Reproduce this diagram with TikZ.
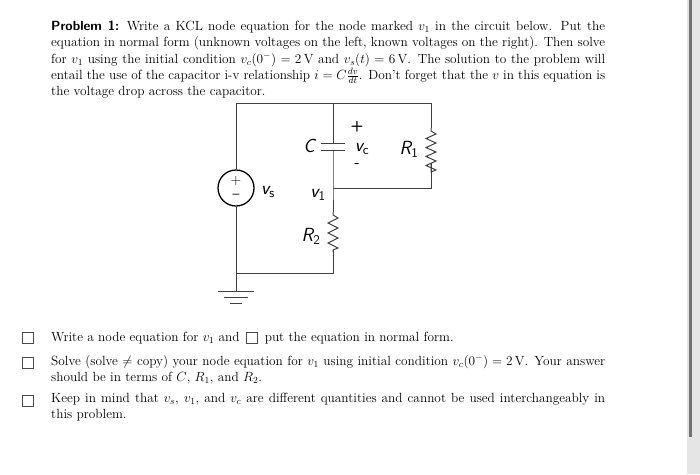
\documentclass[tikz,border=0pt]{standalone}
\usepackage{fix-cm}
\usepackage{amsmath,amssymb}
\usepackage{fontspec}
\usetikzlibrary{calc}
\begin{document}
\begin{tikzpicture}[x=1pt,y=-1pt,
  wire/.style={draw=black!75,line width=1pt},
  lab/.style={font=\sffamily\itshape\fontsize{19}{20}\selectfont},
  body/.style={anchor=north west,inner sep=0pt,text width=#1,align=justify,font=\fontsize{13.3}{16.2}\selectfont},
  line/.style={anchor=west,inner sep=0pt,font=\fontsize{13.3}{16.2}\selectfont},
  cbox/.style={draw=black!70,line width=0.7pt,minimum size=11pt,inner sep=0pt}]
\useasboundingbox (0,0) rectangle (700,474);
\fill[black!10] (687,0) rectangle (700,474);
\fill[black!55] (689,0) rectangle (692,437);
% text
\node[body=554pt] (para) at (51,21) {{\sffamily\bfseries Problem 1:} Write a KCL node equation for the node marked $v_1$ in the circuit below. Put the equation in normal form (unknown voltages on the left, known voltages on the right). Then solve for $v_1$ using the initial condition $v_c(0^-)=2\,\mathrm{V}$ and $v_s(t)=6\,\mathrm{V}$. The solution to the problem will entail the use of the capacitor i-v relationship $i=C\frac{dv}{dt}$. Don't forget that the $v$ in this equation is the voltage drop across the capacitor.};
% circuit coordinates
\coordinate (tl) at (236,103); \coordinate (tm) at (333,103); \coordinate (tr) at (431,103);
\coordinate (n1) at (333,188); \coordinate (rr) at (431,188);
\coordinate (bl) at (236,273); \coordinate (bm) at (333,273);
\coordinate (g) at (236,291);
\node[circle,draw=black,line width=1.3pt,minimum size=36pt,inner sep=0pt] (vs) at (236,188) {};
\node[font=\sffamily\fontsize{14}{14}\selectfont] at (236,181) {+};
\node[font=\sffamily\fontsize{14}{14}\selectfont] at (236,196) {--};
\draw[wire] (vs.north) -- (tl) -- (tr) -- (431,128);
\draw[wire] (431,163) -- (rr) -- (n1);
\draw[wire] (431,128) -- ++(0,3) -- ++(5,3) \foreach \i in {1,...,4}{-- ++(-10,4.5) -- ++(10,4.5)} -- ++(-5,2) -- (431,163);
\draw[wire] (tm) -- (333,143) (333,150) -- (n1) -- (333,212);
\draw[wire] (321,143) -- (345,143) (321,150) -- (345,150);
\draw[wire] (333,212) -- ++(0,3) -- ++(5,3) \foreach \i in {1,...,3}{-- ++(-10,5) -- ++(10,5)} -- ++(-5,2) -- (333,252);
\draw[wire] (333,250) -- (bm) -- (bl) -- (vs.south);
\draw[wire] (bl) -- (g);
\draw[wire] (218,291) -- (254,291) (224,297) -- (248,297) (230,303) -- (242,303);
\node[lab] (lc) at (309,146) {C};
\node[lab] (lvc) at (362,149) {v\textsubscript{\upshape c}};
\node[font=\sffamily\bfseries\fontsize{15}{15}\selectfont] at (357,127) {+};
\node[font=\sffamily\bfseries\fontsize{15}{15}\selectfont] at (357,166) {-};
\node[lab] (lr1) at (409,149) {R\textsubscript{\upshape 1}};
\node[lab] (lvs) at (268,192) {v\textsubscript{\upshape s}};
\node[lab] (lv1) at (318,195) {v\textsubscript{\upshape 1}};
\node[lab] (lr2) at (311,236) {R\textsubscript{\upshape 2}};
% checklist
\node[cbox] (c1) at (28,338) {};
\node[line] (t1) at (51,338) {Write a node equation for $v_1$ and};
\node[cbox,anchor=west] (c2) at ($(t1.east)+(6,0)$) {};
\node[line] (t2) at ($(c2.east)+(7,0)$) {put the equation in normal form.};
\node[cbox] (c3) at (28,363) {};
\node[body=554pt] (t3) at (51,355) {Solve (solve $\neq$ copy) your node equation for $v_1$ using initial condition $v_c(0^-)=2\,\mathrm{V}$. Your answer should be in terms of $C$, $R_1$, and $R_2$.};
\node[cbox] (c4) at (28,401) {};
\node[body=554pt] (t4) at (51,393) {Keep in mind that $v_s$, $v_1$, and $v_c$ are different quantities and cannot be used interchangeably in this problem.};
\end{tikzpicture}
\end{document}
